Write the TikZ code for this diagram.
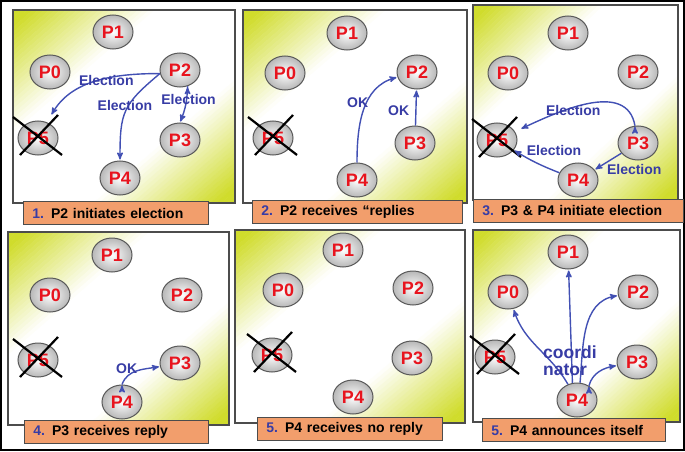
\documentclass[tikz,border=0pt]{standalone}
\usepackage{fontspec}
\setmainfont{Liberation Sans}
\usetikzlibrary{arrows,shapes.geometric}

\definecolor{procred}{RGB}{232,20,30}
\definecolor{arrowblue}{RGB}{66,80,180}
\definecolor{labelblue}{RGB}{55,60,165}
\definecolor{capfill}{RGB}{242,158,108}
\definecolor{panelyellow}{RGB}{208,220,44}

% panel background: yellow in the top left and bottom right corners,
% white along the other diagonal, drawn as thin bands
\newcommand{\panelbg}[4]{%
  \begin{scope}
    \clip (#1,#2) rectangle ++(#3,#4);
    \begin{scope}[shift={(#1,#2)},x=#3pt,y=#4pt]
      \foreach \k in {-41,...,41} {
        \pgfmathsetmacro\ylwpct{max(0,min(100,(abs(\k/40)-0.36)/0.56*100))}
        \fill[-,panelyellow!\ylwpct!white] ({(\k-0.5)/40},0) -- ({(\k+0.6)/40},0)
          -- ({1+(\k+0.6)/40},1) -- ({1+(\k-0.5)/40},1) -- cycle;
      }
    \end{scope}
  \end{scope}
  \draw[-,draw=black!70,line width=1.5pt] (#1,#2) rectangle ++(#3,#4);}

\begin{document}
\begin{tikzpicture}[x=1pt,y=1pt,->,>=stealth',shorten >=1pt,
    proc/.style={ellipse,draw=black!65,line width=1pt,inner color=white,outer color=black!28,
                 minimum width=40,minimum height=34,inner sep=0pt,text=procred,
                 font=\fontsize{18}{18}\selectfont\bfseries},
    captionbox/.style={-,draw=black!70,line width=0.8pt,fill=capfill,anchor=west,minimum height=23,
                inner xsep=9pt,inner ysep=0pt,align=left,font=\fontsize{14}{14}\selectfont\bfseries},
    msg/.style={draw=arrowblue,line width=1.4pt},
    lbl/.style={text=labelblue,font=\fontsize{14}{14}\selectfont\bfseries,inner sep=1pt},
    cross/.style={-,draw=black,line width=2.2pt,shorten >=0pt}]

  \useasboundingbox (0,0) rectangle (685,451);
  \draw[-,line width=2pt] (1,1) rectangle (684,450);

  % the six panels
  \panelbg{13}{248}{222}{193}
  \panelbg{243}{248}{224}{193}
  \panelbg{473}{251}{205}{195}
  \panelbg{8}{26}{221}{193}
  \panelbg{235}{28}{230}{193}
  \panelbg{473}{29}{207}{192}

  % 1. P2 initiates election
  \node[proc] (a1) at (113,419) {P1};
  \node[proc] (a0) at (50,379) {P0};
  \node[proc] (a2) at (180,381) {P2};
  \node[proc] (a5) at (38,313) {P5};
  \node[proc] (a3) at (180,311) {P3};
  \node[proc] (a4) at (120,273) {P4};
  \draw[cross] ([shift={(-25,21)}]a5.center) -- ([shift={(24,-17)}]a5.center)
               ([shift={(-18,-17)}]a5.center) -- ([shift={(20,23)}]a5.center);
  \path[msg]
    (a2.190) edge [out=180,in=60,shorten >=9pt] node[lbl,pos=0.4,yshift=-2] {Election} (a5)
    (a2.190) edge [out=220,in=90,looseness=1.3] node[lbl,pos=0.42,xshift=-4] {Election} (a4)
    (a2.-65) edge [bend left=10] node[lbl,pos=0.35,xshift=2] {Election} (a3.north);
  \node[captionbox,text width=167] (cap1) at (23,238) {\textcolor{labelblue}{1.} P2 initiates election};

  % 2. P2 receives replies
  \node[proc] (b1) at (347,418) {P1};
  \node[proc] (b0) at (285,378) {P0};
  \node[proc] (b2) at (417,379) {P2};
  \node[proc] (b5) at (273,313) {P5};
  \node[proc] (b3) at (415,308) {P3};
  \node[proc] (b4) at (357,271) {P4};
  \draw[cross] ([shift={(-25,21)}]b5.center) -- ([shift={(24,-17)}]b5.center)
               ([shift={(-18,-17)}]b5.center) -- ([shift={(20,23)}]b5.center);
  \path[msg]
    (b4) edge [out=90,in=195] node[lbl,pos=0.55,xshift=-8,yshift=2] {OK} (b2)
    (b3) edge node[lbl,pos=0.4,left=5pt] {OK} (b2);
  \node[captionbox,text width=192] (cap2) at (252,239.5) {\textcolor{labelblue}{2.} P2 receives \textquotedblleft replies};

  % 3. P3 & P4 initiate election
  \node[proc] (c1) at (568,418) {P1};
  \node[proc] (c0) at (508,378) {P0};
  \node[proc] (c2) at (638,379) {P2};
  \node[proc] (c5) at (497,311) {P5};
  \node[proc] (c3) at (638,308) {P3};
  \node[proc] (c4) at (578,271) {P4};
  \draw[cross] ([shift={(-25,21)}]c5.center) -- ([shift={(24,-17)}]c5.center)
               ([shift={(-18,-17)}]c5.center) -- ([shift={(20,23)}]c5.center);
  \path[msg]
    (c3.100) edge [out=100,in=25,shorten >=7pt] node[lbl,pos=0.6,yshift=-3] {Election} (c5)
    (c4) edge [bend left=5] node[lbl,pos=0.1,above=13pt] {Election} (c5)
    (c3) edge node[lbl,pos=0.6,below right=0pt] {Election} (c4);
  \node[captionbox,text width=192] (cap3) at (473,240.5) {\textcolor{labelblue}{3.} P3 \& P4 initiate election};

  % 4. P3 receives reply
  \node[proc] (d1) at (112,196) {P1};
  \node[proc] (d0) at (50,156) {P0};
  \node[proc] (d2) at (182,156) {P2};
  \node[proc] (d5) at (38,91) {P5};
  \node[proc] (d3) at (180,88) {P3};
  \node[proc] (d4) at (122,49) {P4};
  \draw[cross] ([shift={(-25,21)}]d5.center) -- ([shift={(24,-17)}]d5.center)
               ([shift={(-18,-17)}]d5.center) -- ([shift={(20,23)}]d5.center);
  \path[msg]
    (d4.north) edge [out=70,in=190] node[lbl,pos=0.3,xshift=-3,yshift=6] {OK} (d3);
  \node[captionbox,text width=166] (cap4) at (24,19.5) {\textcolor{labelblue}{4.} P3 receives reply};

  % 5. P4 receives no reply
  \node[proc] (e1) at (343,201) {P1};
  \node[proc] (e0) at (283,161) {P0};
  \node[proc] (e2) at (413,163) {P2};
  \node[proc] (e5) at (272,96) {P5};
  \node[proc] (e3) at (412,93) {P3};
  \node[proc] (e4) at (353,54) {P4};
  \draw[cross] ([shift={(-25,21)}]e5.center) -- ([shift={(24,-17)}]e5.center)
               ([shift={(-18,-17)}]e5.center) -- ([shift={(20,23)}]e5.center);
  \node[captionbox,text width=167] (cap5) at (257,22) {\textcolor{labelblue}{5.} P4 receives no reply};

  % 5. P4 announces itself
  \node[proc] (f1) at (568,199) {P1};
  \node[proc] (f0) at (508,159) {P0};
  \node[proc] (f2) at (638,159) {P2};
  \node[proc] (f5) at (495,94) {P5};
  \node[proc] (f3) at (637,89) {P3};
  \node[proc] (f4) at (577,51) {P4};
  \draw[cross] ([shift={(-25,21)}]f5.center) -- ([shift={(24,-17)}]f5.center)
               ([shift={(-18,-17)}]f5.center) -- ([shift={(20,23)}]f5.center);
  \path[msg]
    (f4.120) edge [out=120,in=-72] (f0)
    (f4.105) edge (f1)
    (f4.80) edge [out=85,in=190] (f2)
    (f4.50) edge [out=75,in=190] (f3);
  \node[lbl,align=left,anchor=west,font=\fontsize{17.5}{17}\selectfont\bfseries] (coord) at (542,90) {coordi\\nator};
  \node[captionbox,text width=165] (cap6) at (482,21) {\textcolor{labelblue}{5.} P4 announces itself};
\end{tikzpicture}
\end{document}
